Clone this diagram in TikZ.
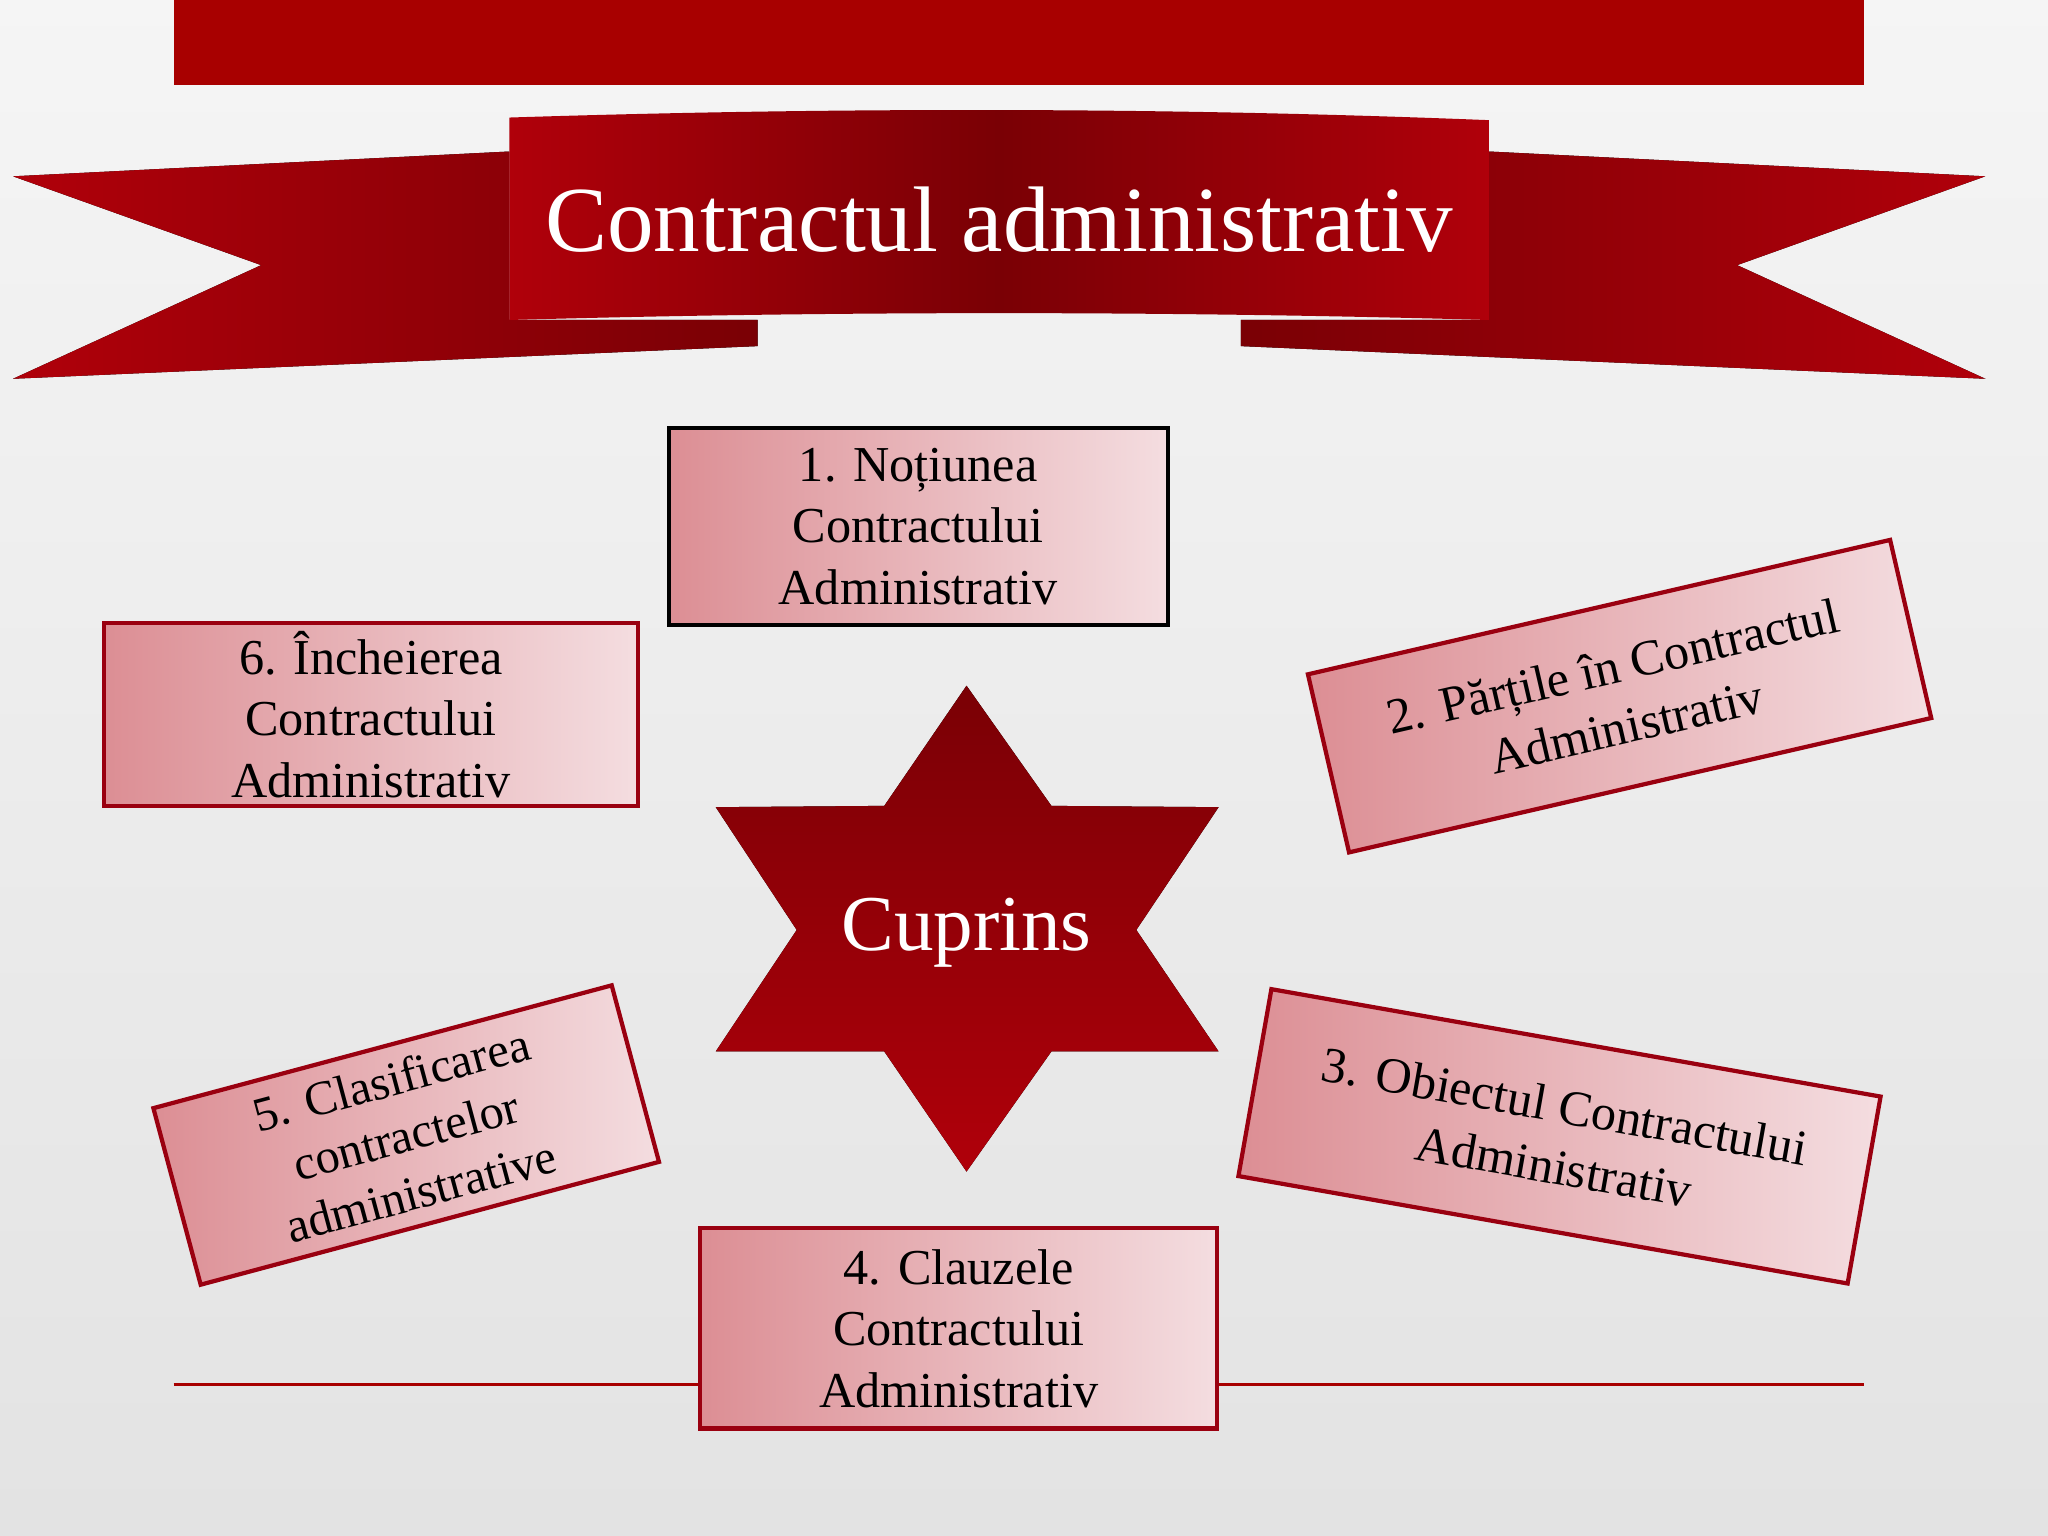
\documentclass[tikz,border=0pt]{standalone}
\usepackage{fontspec}
\setmainfont{Liberation Serif}
\definecolor{topred}{HTML}{A80000}
\definecolor{darkred}{HTML}{7A0005}
\definecolor{midred}{HTML}{B0000A}
\definecolor{pinkA}{HTML}{DC8E94}
\definecolor{pinkB}{HTML}{F4DDE0}
\definecolor{bordred}{HTML}{9A0010}
\tikzset{
  box/.style={draw=bordred, line width=1.2pt, left color=pinkA, right color=pinkB, align=center, inner sep=2pt,
    font=\fontsize{14.3}{17.5}\selectfont, text=black},
}
\begin{document}
\begin{tikzpicture}[x=0.01306cm,y=-0.01306cm]
\useasboundingbox (0,0) rectangle (1568,1176);
\fill[top color=gray!8, bottom color=gray!22] (0,0) rectangle (1568,1176);
\fill[topred] (133,0) rectangle (1427,65);
% ribbon tails
\fill[left color=midred, right color=darkred] (10,135) -- (390,116) -- (390,245) -- (580,245) -- (580,265) -- (10,290) -- (200,203) -- cycle;
\fill[right color=midred, left color=darkred] (1520,135) -- (1140,116) -- (1140,245) -- (950,245) -- (950,265) -- (1520,290) -- (1330,203) -- cycle;
% center banner
\shade[left color=midred, right color=midred, middle color=darkred] (390,90) .. controls (640,82) and (890,82) .. (1140,92) -- (1140,245) .. controls (890,238) and (640,238) .. (390,245) -- cycle;
\node[text=white, font=\fontsize{26.5}{30}\selectfont] (title) at (765,168) {Contractul administrativ};
% star
\fill[top color=darkred, bottom color=midred] (740,525) -- (805,617) -- (933,618) -- (870,712) -- (933,805) -- (805,805) -- (740,897) -- (677,805) -- (548,805) -- (610,712) -- (548,618) -- (677,617) -- cycle;
\node[text=white, font=\fontsize{22.5}{26}\selectfont] (star) at (740,714) {Cuprins};
% line
\draw[topred, line width=1.1pt] (133,1060) -- (1427,1060);
% boxes
\node[box, draw=black, minimum width=142pt, minimum height=56pt] (b1) at (703,403) {1. Noțiunea\\Contractului\\Administrativ};
\node[box, minimum width=170pt, minimum height=52pt, rotate=13] (b2) at (1240,533) {2. Părțile în Contractul\\Administrativ};
\node[box, minimum width=176pt, minimum height=54pt, rotate=-10] (b3) at (1194,870) {3. Obiectul Contractului\\Administrativ};
\node[box, minimum width=147pt, minimum height=57pt] (b4) at (734,1017) {4. Clauzele\\Contractului\\Administrativ};
\node[box, minimum width=135pt, minimum height=52pt, rotate=15, font=\fontsize{13.8}{16.5}\selectfont] (b5) at (311,869) {5. Clasificarea\\contractelor\\administrative};
\node[box, minimum width=152pt, minimum height=52pt] (b6) at (284,547) {6. Încheierea\\Contractului\\Administrativ};
\end{tikzpicture}
\end{document}
